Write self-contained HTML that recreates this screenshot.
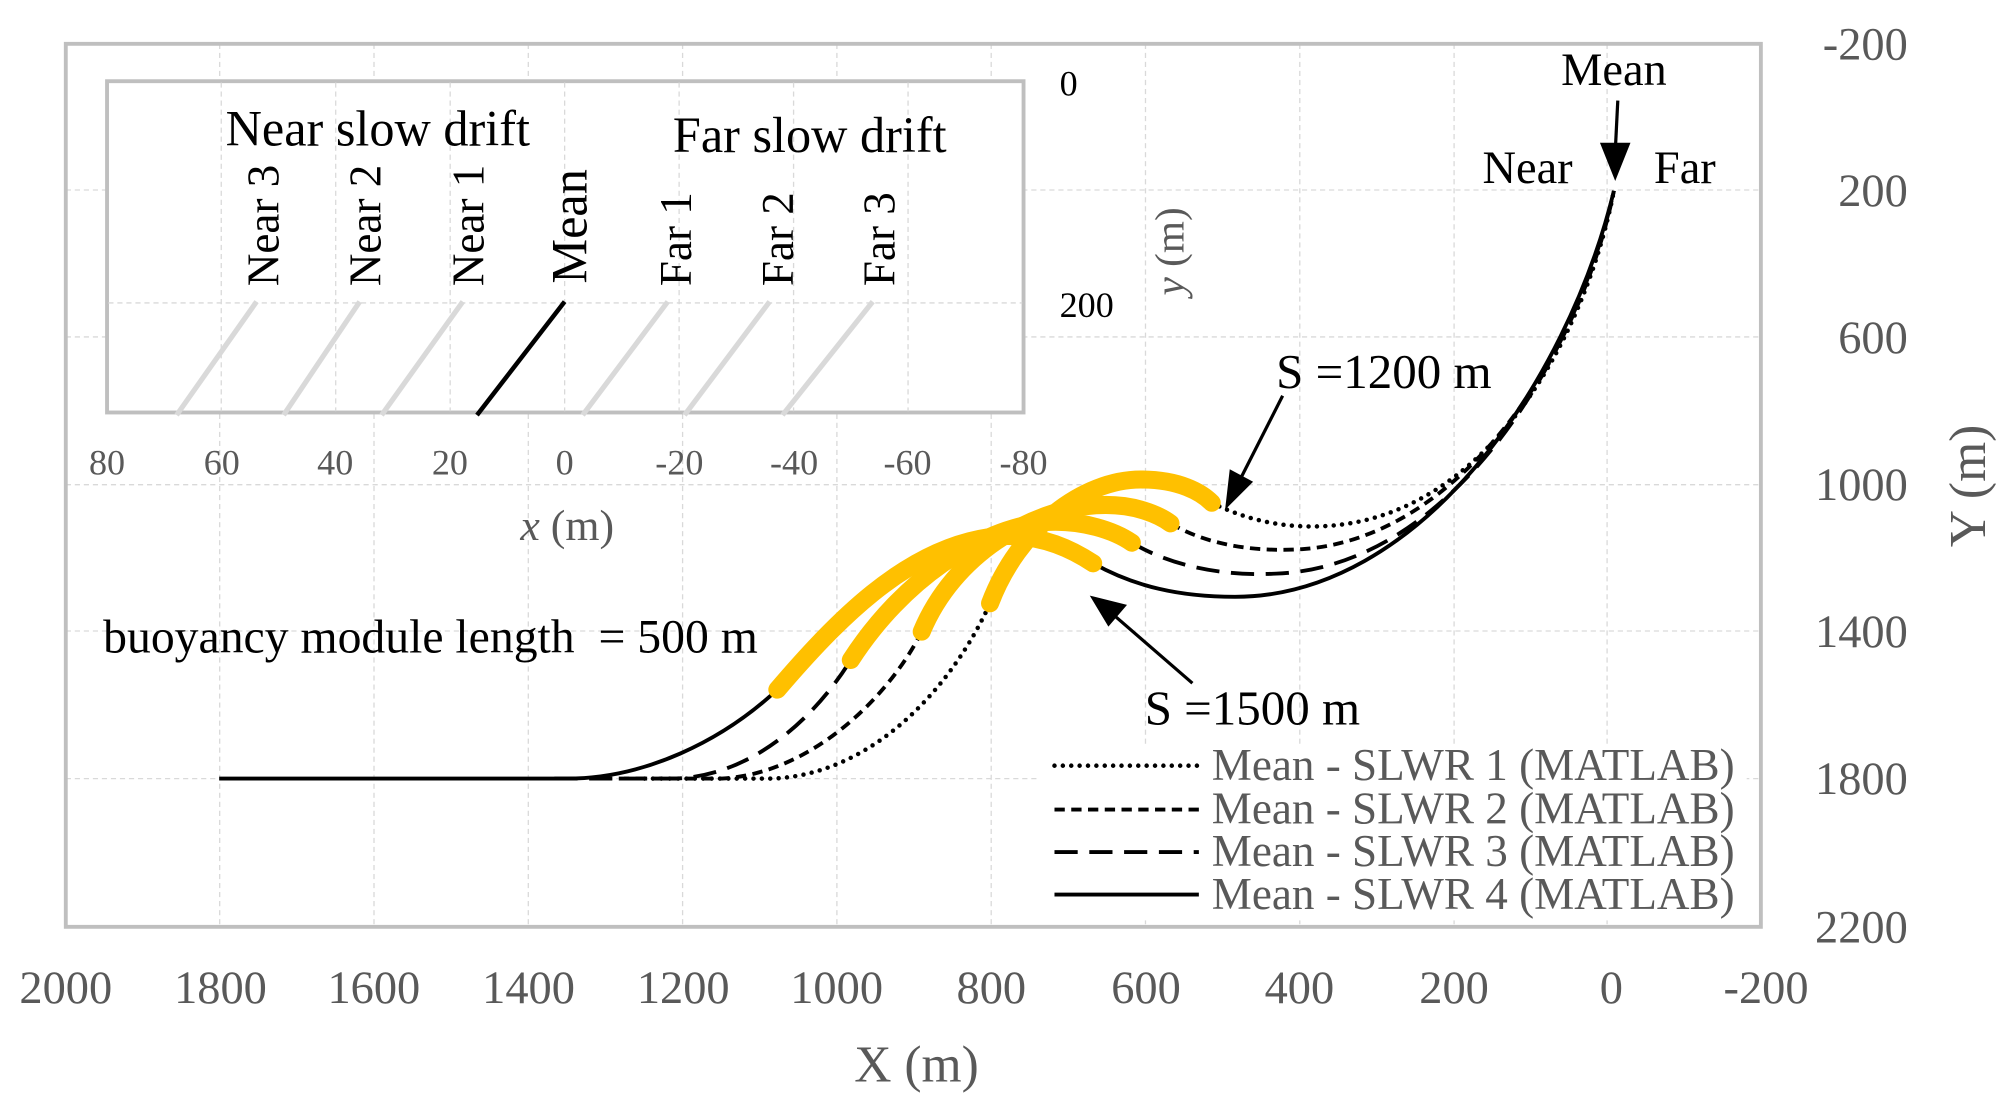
<!DOCTYPE html>
<html><head><meta charset="utf-8"><style>
html,body{margin:0;padding:0;background:#fff}
svg{display:block}
text{font-family:"Liberation Serif",serif}
</style></head><body>
<svg width="2011" height="1106" viewBox="0 0 1560 858" xmlns="http://www.w3.org/2000/svg">
<rect width="1560" height="858" fill="#fff"/>
<g stroke="#d9d9d9" stroke-width="1" stroke-dasharray="4 3">
<line x1="51" y1="147.4" x2="1366" y2="147.4"/>
<line x1="51" y1="261.4" x2="1366" y2="261.4"/>
<line x1="51" y1="376" x2="1366" y2="376"/>
<line x1="51" y1="489.5" x2="1366" y2="489.5"/>
<line x1="51" y1="604" x2="1366" y2="604"/>
<line x1="170.4" y1="34" x2="170.4" y2="719"/>
<line x1="290.1" y1="34" x2="290.1" y2="719"/>
<line x1="409.8" y1="34" x2="409.8" y2="719"/>
<line x1="529.5" y1="34" x2="529.5" y2="719"/>
<line x1="649.2" y1="34" x2="649.2" y2="719"/>
<line x1="768.9" y1="34" x2="768.9" y2="719"/>
<line x1="888.6" y1="34" x2="888.6" y2="719"/>
<line x1="1008.3" y1="34" x2="1008.3" y2="719"/>
<line x1="1128" y1="34" x2="1128" y2="719"/>
<line x1="1246.7" y1="34" x2="1246.7" y2="719"/>
</g>
<rect x="805" y="578" width="550" height="136" fill="#fff"/>
<rect x="51" y="34" width="1315" height="685" fill="none" stroke="#bfbfbf" stroke-width="3"/>
<rect x="83" y="63" width="711" height="257" fill="#fff" stroke="#bfbfbf" stroke-width="3"/>
<g stroke="#d9d9d9" stroke-width="1" stroke-dasharray="4 3">
<line x1="84" y1="235" x2="793" y2="235"/>
<line x1="171.6" y1="64" x2="171.6" y2="319"/>
<line x1="260.4" y1="64" x2="260.4" y2="319"/>
<line x1="349.2" y1="64" x2="349.2" y2="319"/>
<line x1="438" y1="64" x2="438" y2="319"/>
<line x1="526.8" y1="64" x2="526.8" y2="319"/>
<line x1="615.6" y1="64" x2="615.6" y2="319"/>
<line x1="704.4" y1="64" x2="704.4" y2="319"/>
</g>
<g stroke="#d9d9d9" stroke-width="4">
<line x1="199" y1="234" x2="137" y2="322"/>
<line x1="279" y1="234" x2="220" y2="322"/>
<line x1="359" y1="234" x2="296" y2="322"/>
<line x1="518" y1="234" x2="452" y2="322"/>
<line x1="597" y1="234" x2="531" y2="322"/>
<line x1="677" y1="234" x2="607" y2="322"/>
</g>
<line x1="438" y1="234" x2="370" y2="322" stroke="#000" stroke-width="3.5"/>
<text x="175" y="113" font-size="39">Near slow drift</text>
<text x="522" y="118" font-size="39">Far slow drift</text>
<g font-size="35">
<text transform="translate(216,222) rotate(-90)">Near 3</text>
<text transform="translate(295,222) rotate(-90)">Near 2</text>
<text transform="translate(375,222) rotate(-90)">Near 1</text>
<text transform="translate(455,220) rotate(-90)" font-size="39">Mean</text>
<text transform="translate(536,222) rotate(-90)">Far 1</text>
<text transform="translate(615,222) rotate(-90)">Far 2</text>
<text transform="translate(694,222) rotate(-90)">Far 3</text>
</g>
<g font-size="28" fill="#595959" text-anchor="middle">
<text x="83" y="368">80</text><text x="172" y="368">60</text><text x="260" y="368">40</text>
<text x="349" y="368">20</text><text x="438" y="368">0</text><text x="527" y="368">-20</text>
<text x="616" y="368">-40</text><text x="704" y="368">-60</text><text x="794" y="368">-80</text>
<text x="440" y="419" font-size="34"><tspan font-style="italic">x</tspan> (m)</text>
</g>
<text x="822" y="74" font-size="28">0</text>
<text x="822" y="246" font-size="28">200</text>
<text transform="translate(918,195) rotate(-90)" font-size="32" fill="#595959" text-anchor="middle"><tspan font-style="italic">y</tspan> (m)</text>
<g fill="none" stroke="#000" stroke-width="3">
<path d="M170,604 L440,604 C500,604 560,575 603,535"/>
<path d="M848,437 C880,455 915,463 958,463 C1100,463 1215,300 1252,148"/>
<path d="M430,604 L520,604 C580,604 630,560 660,512" stroke-dasharray="18 9"/>
<path d="M878,421 C910,440 950,447 990,445 C1120,440 1220,290 1252,148" stroke-dasharray="18 9"/>
<path d="M480,604 L560,604 C630,600 690,540 715,490" stroke-dasharray="8 5"/>
<path d="M908,406 C940,425 980,428 1010,426 C1130,418 1225,280 1252,148" stroke-dasharray="8 5"/>
<path d="M500,604 L600,604 C680,600 740,530 768,468" stroke-dasharray="0 6.5" stroke-linecap="round" stroke-width="3.5"/>
<path d="M940,390 C970,405 1000,410 1030,408 C1150,400 1228,270 1252,148" stroke-dasharray="0 6.5" stroke-linecap="round" stroke-width="3.5"/>
</g>
<g fill="none" stroke="#ffc000" stroke-width="14" stroke-linecap="round">
<path d="M603,535 C650,480 700,430 760,418 C800,410 830,425 848,437"/>
<path d="M660,512 C700,450 760,410 810,405 C840,403 865,412 878,421"/>
<path d="M715,490 C740,430 800,395 850,392 C880,390 900,400 908,406"/>
<path d="M768,468 C790,410 840,372 885,372 C915,372 932,382 940,390"/>
</g>
<g stroke="#000" stroke-width="2.5" fill="#000">
<line x1="1255" y1="78" x2="1253" y2="118"/>
<polygon points="1243,112 1263,112 1253,137"/>
<line x1="995" y1="307" x2="962" y2="372"/>
<polygon points="952,392 955,366 970,374"/>
<line x1="925" y1="530" x2="865" y2="478"/>
<polygon points="848,464 872,470 860,484"/>
</g>
<text x="1252" y="66" font-size="36" text-anchor="middle">Mean</text>
<text x="1185" y="142" font-size="36" text-anchor="middle">Near</text>
<text x="1307" y="142" font-size="36" text-anchor="middle">Far</text>
<text x="990" y="301" font-size="38">S =1200 m</text>
<text x="888" y="562" font-size="38">S =1500 m</text>
<text x="80" y="506" font-size="37" xml:space="preserve">buoyancy module length  = 500 m</text>
<g fill="none" stroke="#000" stroke-width="3">
<line x1="818" y1="594" x2="930" y2="594" stroke-dasharray="0 6.5" stroke-linecap="round" stroke-width="3.5"/>
<line x1="818" y1="628" x2="930" y2="628" stroke-dasharray="8 5"/>
<line x1="818" y1="661" x2="930" y2="661" stroke-dasharray="18 9"/>
<line x1="818" y1="694" x2="930" y2="694"/>
</g>
<g font-size="35" fill="#595959">
<text x="940" y="605">Mean - SLWR 1 (MATLAB)</text>
<text x="940" y="639">Mean - SLWR 2 (MATLAB)</text>
<text x="940" y="672">Mean - SLWR 3 (MATLAB)</text>
<text x="940" y="705">Mean - SLWR 4 (MATLAB)</text>
</g>
<g font-size="36" fill="#595959" text-anchor="end">
<text x="1480" y="46">-200</text><text x="1480" y="160">200</text><text x="1480" y="274">600</text>
<text x="1480" y="388">1000</text><text x="1480" y="502">1400</text><text x="1480" y="616">1800</text>
<text x="1480" y="731">2200</text>
</g>
<g font-size="36" fill="#595959" text-anchor="middle">
<text x="51" y="778">2000</text><text x="171" y="778">1800</text><text x="290" y="778">1600</text>
<text x="410" y="778">1400</text><text x="530" y="778">1200</text><text x="649" y="778">1000</text>
<text x="769" y="778">800</text><text x="889" y="778">600</text><text x="1008" y="778">400</text>
<text x="1128" y="778">200</text><text x="1250" y="778">0</text><text x="1370" y="778">-200</text>
<text x="711" y="839" font-size="40">X (m)</text>
<text transform="translate(1540,377) rotate(-90)" font-size="40">Y (m)</text>
</g>
</svg>
</body></html>
